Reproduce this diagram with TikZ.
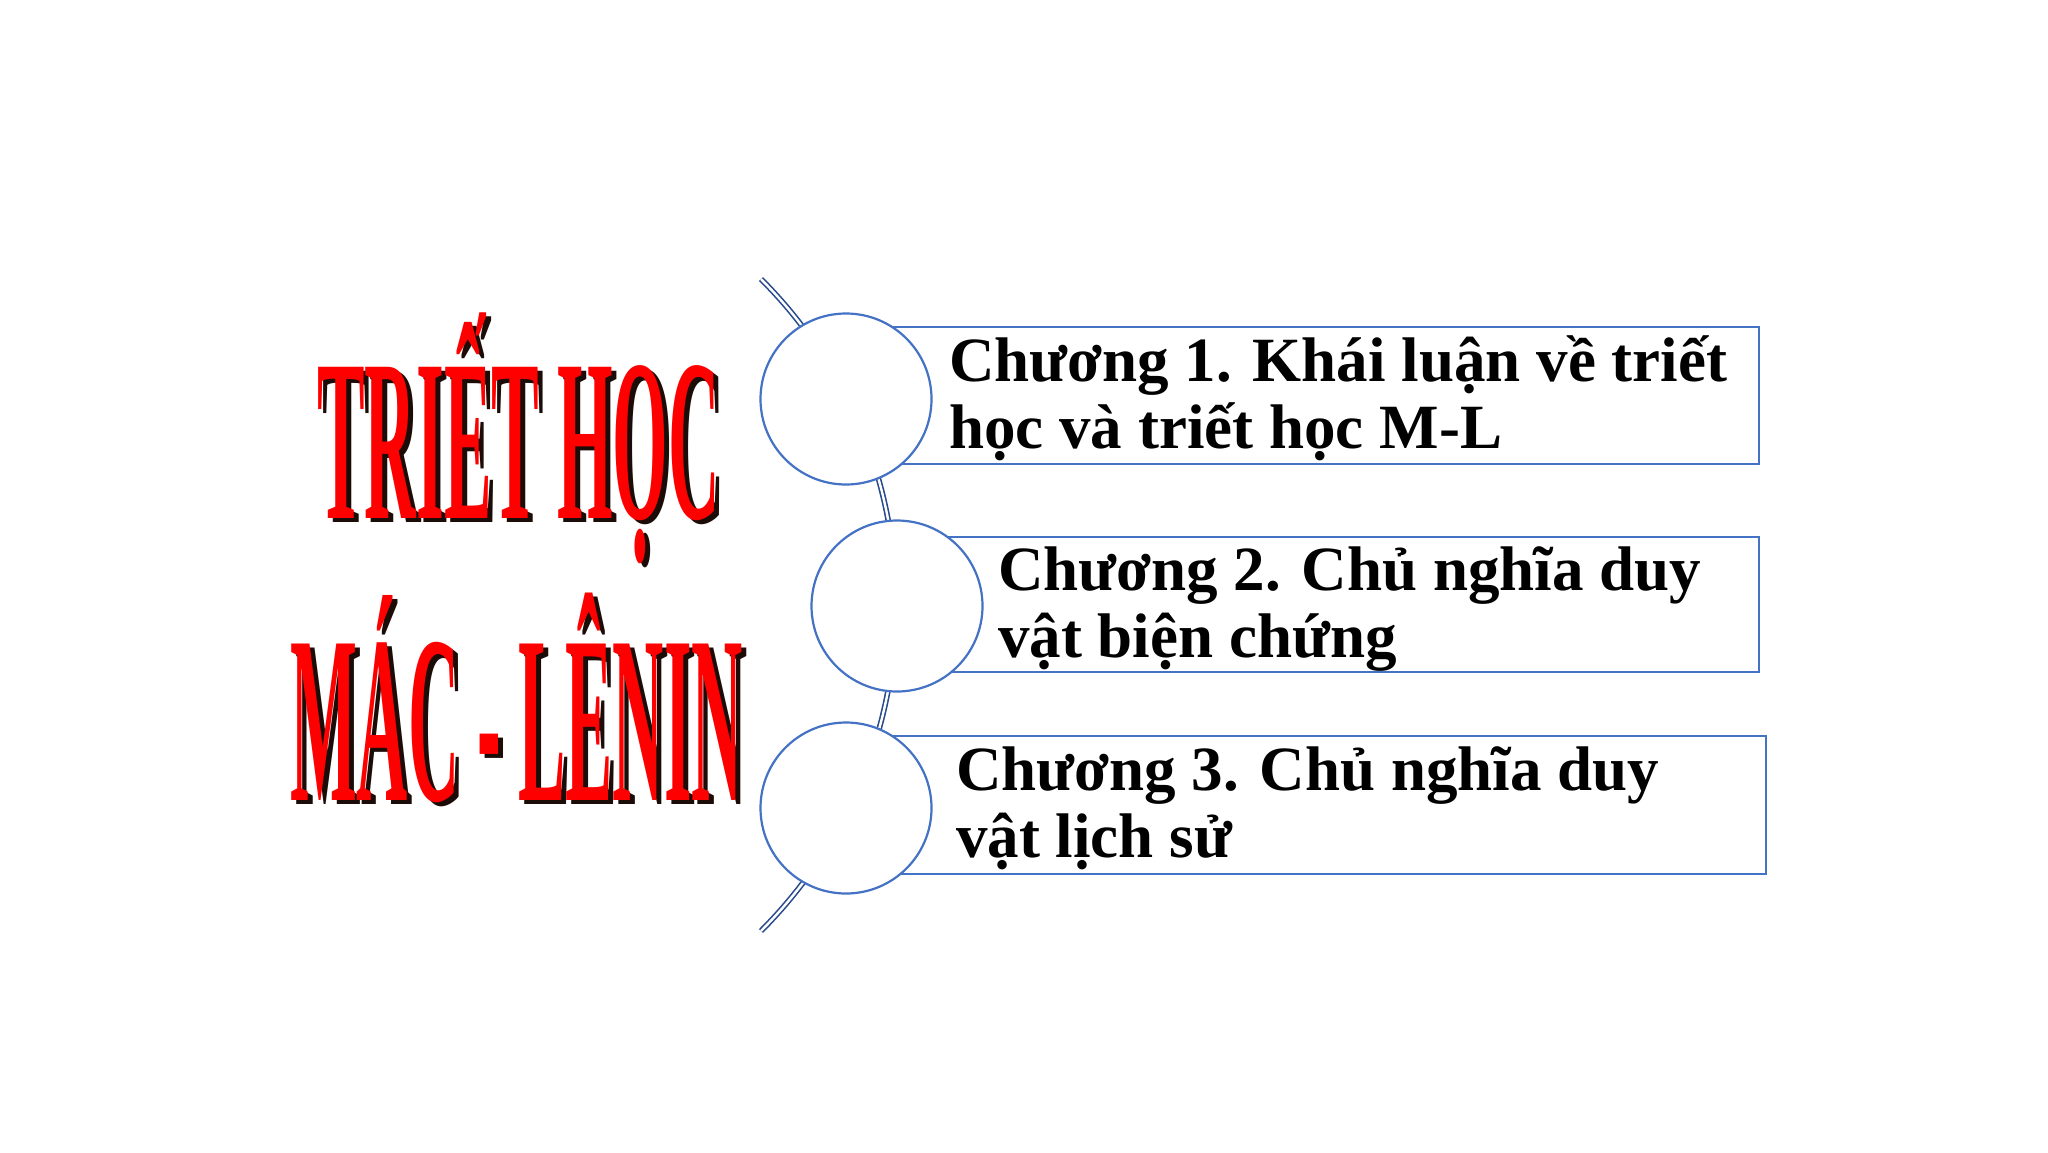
\documentclass[tikz,border=0pt]{standalone}
\usepackage{fontspec}
\setmainfont{Liberation Serif}
\usepackage{graphicx}
\definecolor{boxblue}{RGB}{68,114,196}
\definecolor{arcblue}{RGB}{40,75,140}
\definecolor{titlered}{RGB}{255,0,0}
\definecolor{shadowblack}{RGB}{28,12,8}
\begin{document}
\begin{tikzpicture}[x=1pt,y=-1pt,
  box/.style={draw=boxblue, line width=2pt, inner sep=0pt, anchor=north west},
  bubble/.style={draw=boxblue, line width=2.2pt, fill=white, circle, minimum size=171pt, inner sep=0pt},
  chap/.style={font=\bfseries\fontsize{63}{67}\selectfont, anchor=base west, inner sep=0pt},
  titlered/.style={text=titlered, anchor=base, inner sep=0pt},
  titleshadow/.style={text=shadowblack, anchor=base, inner sep=0pt},
  backbone/.style={draw=arcblue, double=white, double distance=2.4pt, line width=1.6pt}
]
\path[fill=white] (0,0) rectangle (2048,1152);
\useasboundingbox (0,0) rectangle (2048,1152);

% backbone arc
\coordinate (arcc) at (435,605);
\draw[backbone] ([shift={(-45:461)}]arcc) arc[start angle=-45, end angle=45, radius=461];

% boxes
\node[box, minimum width=912pt, minimum height=136.5pt] (b1) at (846,326) {};
\node[box, minimum width=861pt, minimum height=135.5pt] (b2) at (897,535.5) {};
\node[box, minimum width=919pt, minimum height=137.5pt] (b3) at (846,735) {};

% circles
\node[bubble] (c1) at (846,399) {};
\node[bubble] (c2) at (897,606) {};
\node[bubble] (c3) at (846,808) {};

% chapter texts
\node[chap] (t1a) at (949,381) {Chương 1. Khái luận về triết};
\node[chap] (t1b) at (949,448) {học và triết học M-L};
\node[chap] (t2a) at (998,590.5) {Chương 2. Chủ nghĩa duy};
\node[chap] (t2b) at (998,657.5) {vật biện chứng};
\node[chap] (t3a) at (956,790) {Chương 3. Chủ nghĩa duy};
\node[chap] (t3b) at (956,857) {vật lịch sử};

% title with shadow
\node[titleshadow] (tAs) at (523.5,522) {\resizebox{403pt}{\height}{\bfseries\fontsize{231}{231}\selectfont TRIẾT HỌC}};
\node[titlered] (tA) at (518.5,518) {\resizebox{403pt}{\height}{\bfseries\fontsize{231}{231}\selectfont TRIẾT HỌC}};
\node[titleshadow] (tBs) at (521.5,804) {\resizebox{453pt}{\height}{\bfseries\fontsize{239}{239}\selectfont MÁC - LÊNIN}};
\node[titlered] (tB) at (516.5,800) {\resizebox{453pt}{\height}{\bfseries\fontsize{239}{239}\selectfont MÁC - LÊNIN}};
\end{tikzpicture}
\end{document}
